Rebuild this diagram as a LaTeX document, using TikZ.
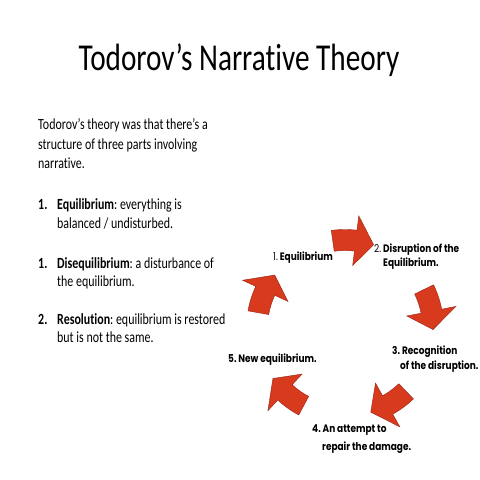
\documentclass[tikz,border=0pt]{standalone}
\usepackage{fontspec}
\setmainfont{Carlito}[FakeStretch=0.77, Ligatures=NoCommon]
\newfontfamily\gothic{Poppins}[FakeStretch=0.83]
\definecolor{arrowred}{RGB}{216,58,30}
\definecolor{arrowdark}{RGB}{150,35,20}
\tikzset{
  body/.style={anchor=base west, inner sep=0pt, font=\fontsize{15.5}{18}\selectfont},
  lab/.style={anchor=base west, inner sep=0pt, font=\gothic\fontsize{10.8}{12}\selectfont\bfseries},
  cyc/.style={fill=arrowred, draw=arrowdark, line width=0.4pt, line join=miter}
}
\newcommand\cycarrow[1]{%
  \path[cyc] ({#1+14}:98.5) arc[start angle={#1+14}, end angle={#1-1}, radius=98.5]
    -- ({#1-1}:113) -- ({#1-13}:88) -- ({#1-1}:63) -- ({#1-1}:77.5)
    arc[start angle={#1-1}, end angle={#1+14}, radius=77.5] -- cycle;}
\frenchspacing
\begin{document}
\begin{tikzpicture}[x=1pt,y=1pt]
\useasboundingbox[fill=white] (0,0) rectangle (480,480);
\node[anchor=base, inner sep=0pt, font=\fontsize{38}{44}\selectfont] (title) at (239,409) {Todorov’s Narrative Theory};
\node[body] (b1) at (38,350) {Todorov’s theory was that there’s a};
\node[body] (b2) at (38,330.5) {structure of three parts involving};
\node[body] (b3) at (38,311) {narrative.};
\node[body] (n1) at (38,270) {\textbf{1.}};
\node[body] (e1) at (57,270) {\textbf{Equilibrium}: everything is};
\node[body] (e1b) at (57,251) {balanced / undisturbed.};
\node[body] (n2) at (38,211) {\textbf{1.}};
\node[body] (e2) at (57,211) {\textbf{Disequilibrium}: a disturbance of};
\node[body] (e2b) at (57,193) {the equilibrium.};
\node[body] (n3) at (38,155) {\textbf{2.}};
\node[body] (e3) at (57,155) {\textbf{Resolution}: equilibrium is restored};
\node[body] (e3b) at (57,137) {but is not the same.};
\begin{scope}[shift={(345,152)}]
  \foreach \a in {84,12,-60,-132,156} {\cycarrow{\a}}
\end{scope}
\node[lab] (l1) at (273,219) {{\mdseries 1.} Equilibrium};
\node[lab] (l2) at (374,227) {{\mdseries 2.} Disruption of the};
\node[lab] (l2b) at (383,213) {Equilibrium.};
\node[lab] (l3) at (392,125) {3. Recognition};
\node[lab] (l3b) at (400,110) {of the disruption.};
\node[lab] (l4) at (312,47) {4. An attempt to};
\node[lab] (l4b) at (322,30) {repair the damage.};
\node[lab] (l5) at (228,117) {5. New equilibrium.};
\end{tikzpicture}
\end{document}
